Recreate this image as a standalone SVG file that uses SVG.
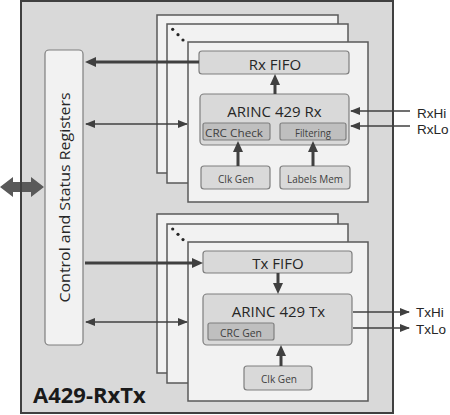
<svg xmlns="http://www.w3.org/2000/svg" width="450" height="415" viewBox="0 0 450 415">
<style>
text{font-family:"Open Sans","Liberation Sans",sans-serif;fill:#262626}
.sheet{fill:#f2f2f2;stroke:#595959;stroke-width:1.5}
.box{fill:#d9d9d9;stroke:#7f7f7f;stroke-width:1.2}
.sub{fill:#bfbfbf;stroke:#7f7f7f;stroke-width:1.2}
.big{font-size:15px;text-anchor:middle}
.sm{font-size:11px;fill:#404040}
.pin{font-size:13.5px;font-family:"Liberation Sans",Arial,sans-serif}
.thick{stroke:#404040;stroke-width:3;fill:none}
.thin{stroke:#404040;stroke-width:1.5;fill:none}
</style>
<defs>
<marker id="ta" markerUnits="userSpaceOnUse" markerWidth="11" markerHeight="10" refX="5" refY="5" orient="auto"><path d="M0,0 L11,5 L0,10 z" fill="#404040"/></marker>
<marker id="da" markerUnits="userSpaceOnUse" markerWidth="10" markerHeight="8" refX="9" refY="4" orient="auto-start-reverse"><path d="M0,0 L10,4 L0,8 z" fill="#404040"/></marker>
</defs>
<g id="outer">
<rect x="21" y="1" width="372" height="412" fill="#d9d9d9"/>
<polygon points="0,187 13,177 13,182 31,182 31,177 44,187 31,197 31,192 13,192 13,197" fill="#595959"/>
<rect x="21" y="1" width="372" height="412" fill="none" stroke="#404040" stroke-width="2"/>
<text x="33" y="403" style="font-size:22px;font-weight:bold;fill:#1a1a1a">A429-RxTx</text>
</g>
<g id="csr">
<rect x="45" y="50" width="38" height="295" rx="4" fill="#f2f2f2" stroke="#7f7f7f" stroke-width="1.2"/>
<text transform="translate(69.5,197.5) rotate(-90)" style="font-size:15px;text-anchor:middle" textLength="210" lengthAdjust="spacingAndGlyphs">Control and Status Registers</text>
</g>
<g id="rx-stack">
<rect class="sheet" x="157" y="15" width="181" height="158"/>
<rect class="sheet" x="167" y="24" width="181" height="159"/>
<circle cx="172.7" cy="29.3" r="1.6" fill="#262626"/>
<circle cx="178" cy="34.7" r="1.6" fill="#262626"/>
<circle cx="183" cy="40" r="1.6" fill="#262626"/>
<rect class="sheet" x="188" y="42" width="180" height="160"/>
</g>
<g id="rx-fifo">
<rect class="box" x="199" y="51" width="150" height="23" rx="3"/>
<text class="big" x="275" y="70">Rx FIFO</text>
</g>
<g id="arinc-rx">
<rect class="box" x="200" y="94" width="149" height="51" rx="4"/>
<text class="big" x="274.5" y="117">ARINC 429 Rx</text>
</g>
<g id="crc-check">
<rect class="sub" x="203" y="123" width="67" height="17" rx="2"/>
<text class="sm" x="205" y="137" textLength="58" lengthAdjust="spacingAndGlyphs">CRC Check</text>
</g>
<g id="filtering">
<rect class="sub" x="280" y="123" width="66" height="17" rx="2"/>
<text class="sm" x="295" y="137" textLength="36" lengthAdjust="spacingAndGlyphs">Filtering</text>
</g>
<g id="rx-clk">
<rect class="box" x="201" y="166" width="69" height="23" rx="3"/>
<text class="sm" x="218" y="183" textLength="36" lengthAdjust="spacingAndGlyphs">Clk Gen</text>
</g>
<g id="labels-mem">
<rect class="box" x="280" y="166" width="70" height="23" rx="3"/>
<text class="sm" x="287" y="183" textLength="56" lengthAdjust="spacingAndGlyphs">Labels Mem</text>
</g>
<g id="tx-stack">
<rect class="sheet" x="157" y="214" width="181" height="159"/>
<rect class="sheet" x="167" y="224" width="181" height="159"/>
<circle cx="172.7" cy="229" r="1.6" fill="#262626"/>
<circle cx="178" cy="234.3" r="1.6" fill="#262626"/>
<circle cx="183" cy="239.6" r="1.6" fill="#262626"/>
<rect class="sheet" x="188" y="242" width="180" height="159"/>
</g>
<g id="tx-fifo">
<rect class="box" x="203" y="251" width="149" height="22" rx="3"/>
<text class="big" x="278" y="269">Tx FIFO</text>
</g>
<g id="arinc-tx">
<rect class="box" x="203" y="294" width="149" height="51" rx="4"/>
<text class="big" x="278.5" y="317">ARINC 429 Tx</text>
</g>
<g id="crc-gen">
<rect class="sub" x="208" y="323" width="66" height="17" rx="2"/>
<text class="sm" x="220" y="337" textLength="42" lengthAdjust="spacingAndGlyphs">CRC Gen</text>
</g>
<g id="tx-clk">
<rect class="box" x="244" y="366" width="68" height="24" rx="3"/>
<text class="sm" x="261" y="383" textLength="36" lengthAdjust="spacingAndGlyphs">Clk Gen</text>
</g>
<g id="pins">
<text class="pin" x="417" y="118">RxHi</text>
<text class="pin" x="417" y="134">RxLo</text>
<text class="pin" x="416" y="317">TxHi</text>
<text class="pin" x="416" y="334">TxLo</text>
</g>
<g id="connectors">
<line class="thick" x1="199" y1="62" x2="91" y2="62" marker-end="url(#ta)"/>
<line class="thin" x1="86" y1="124" x2="187" y2="124" marker-start="url(#da)" marker-end="url(#da)"/>
<line class="thick" x1="275" y1="94" x2="275" y2="80" marker-end="url(#ta)"/>
<line class="thick" x1="238" y1="166" x2="238" y2="147" marker-end="url(#ta)"/>
<line class="thick" x1="313" y1="166" x2="313" y2="147" marker-end="url(#ta)"/>
<line class="thin" x1="410" y1="111" x2="351" y2="111" marker-end="url(#da)"/>
<line class="thin" x1="410" y1="126" x2="351" y2="126" marker-end="url(#da)"/>
<line class="thick" x1="85" y1="263" x2="197" y2="263" marker-end="url(#ta)"/>
<line class="thin" x1="86" y1="322" x2="187" y2="322" marker-start="url(#da)" marker-end="url(#da)"/>
<line class="thick" x1="278" y1="273" x2="278" y2="288" marker-end="url(#ta)"/>
<line class="thick" x1="281" y1="366" x2="281" y2="351" marker-end="url(#ta)"/>
<line class="thin" x1="353" y1="312" x2="409" y2="312" marker-end="url(#da)"/>
<line class="thin" x1="353" y1="328" x2="409" y2="328" marker-end="url(#da)"/>
</g>
</svg>
